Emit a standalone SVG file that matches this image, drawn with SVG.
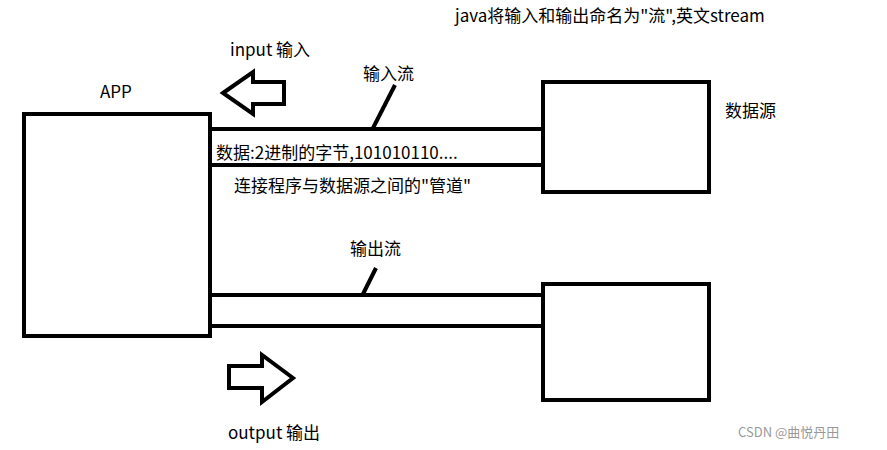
<svg xmlns="http://www.w3.org/2000/svg" width="887" height="450" viewBox="0 0 887 450">
<style>
.b{fill:none;stroke:#000;stroke-width:4}
.t{font-family:"Microsoft YaHei","Noto Sans CJK SC",sans-serif;font-size:17px;fill:#000}
</style>
<rect width="887" height="450" fill="#fff"/>
<g id="app"><rect class="b" x="24" y="114" width="186" height="222"/><text class="t" x="100" y="98">APP</text></g>
<g id="source"><rect class="b" x="543" y="82" width="166" height="110"/><text class="t" x="725" y="117">数据源</text></g>
<g id="sink"><rect class="b" x="543" y="284" width="166" height="116"/></g>
<g id="connectors">
<line class="b" x1="210" y1="129" x2="543" y2="129"/>
<line class="b" x1="210" y1="165" x2="543" y2="165"/>
<line class="b" x1="210" y1="295" x2="543" y2="295"/>
<line class="b" x1="210" y1="326" x2="543" y2="326"/>
<line class="b" x1="395" y1="85" x2="373" y2="128"/>
<line class="b" x1="376" y1="268" x2="363" y2="294"/>
<polygon class="b" points="223,93 253,72 253,82 284,82 284,104 253,104 253,114"/>
<polygon class="b" points="293,378 262,355 262,366 229,366 229,388 262,388 262,402"/>
</g>
<g id="labels">
<text class="t" x="455" y="22">java将输入和输出命名为"流",英文stream</text>
<text class="t" x="230" y="56">input 输入</text>
<text class="t" x="363" y="80">输入流</text>
<text class="t" x="216" y="159">数据:2进制的字节,101010110....</text>
<text class="t" x="234" y="192">连接程序与数据源之间的"管道"</text>
<text class="t" x="350" y="255">输出流</text>
<text class="t" x="228" y="439">output 输出</text>
<text x="738" y="437" style="font-family:'Noto Sans CJK SC',sans-serif;font-size:13px;fill:#999">CSDN @曲悦丹田</text>
</g>
</svg>
